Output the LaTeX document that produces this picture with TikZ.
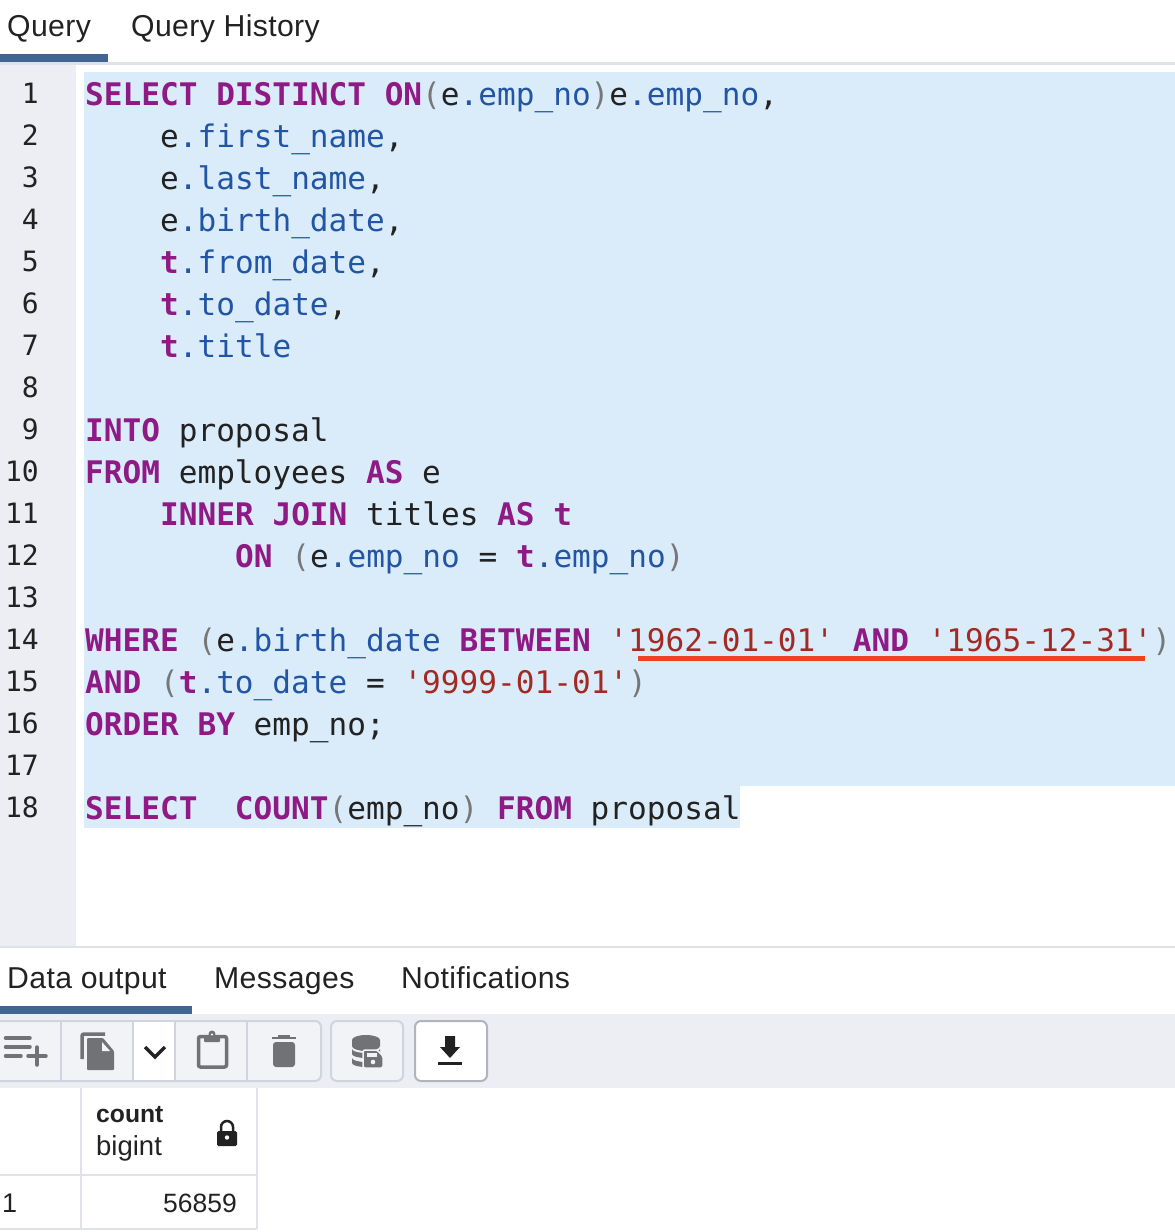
\documentclass[tikz,border=0pt]{standalone}
\usepackage{fontspec}
\setmainfont{Liberation Sans}
\newfontfamily\codefont{DejaVu Sans Mono}
\newfontfamily\tabfont[LetterSpace=1.2]{Liberation Sans}
\usetikzlibrary{positioning}
\definecolor{tabbar}{HTML}{3F6591}
\definecolor{rulegray}{HTML}{DFE2E8}
\definecolor{guttergray}{HTML}{ECEEF3}
\definecolor{selblue}{HTML}{DAECFA}
\definecolor{kwpurple}{HTML}{8F1A85}
\definecolor{fldblue}{HTML}{2255A4}
\definecolor{strred}{HTML}{A32A22}
\definecolor{parengray}{HTML}{777777}
\definecolor{inkdark}{HTML}{222222}
\definecolor{icongray}{HTML}{707276}
\definecolor{btnfill}{HTML}{F1F3F6}
\definecolor{btnline}{HTML}{CFD4DF}
\newcommand{\sqlkw}[1]{\textcolor{kwpurple}{\bfseries #1}}
\newcommand{\sqlfld}[1]{\textcolor{fldblue}{#1}}
\newcommand{\sqlstr}[1]{\textcolor{strred}{#1}}
\newcommand{\sqlpar}[1]{\textcolor{parengray}{#1}}

\begin{document}
\begin{tikzpicture}[x=1pt,y=-1pt,
    code/.style={anchor=base west,inner sep=0pt,text=inkdark,font=\codefont\fontsize{31.1}{31}\selectfont},
    lineno/.style={anchor=base east,inner sep=0pt,text=inkdark,font=\codefont\fontsize{28}{28}\selectfont},
    tab/.style={anchor=base west,inner sep=0pt,text=inkdark,font=\tabfont\fontsize{30.2}{30}\selectfont},
    cell/.style={anchor=base west,inner sep=0pt,text=inkdark,font=\fontsize{27}{27}\selectfont},
    btn/.style={draw=btnline,line width=2pt,fill=btnfill,rounded corners=6pt},
    icon/.style={icongray,line width=3.5pt},
    rulel/.style={rulegray,line width=2.5pt}]
    \useasboundingbox (0,0) rectangle (1175,1232);

    % Top tabs
    \node[tab] (query) at (7,36) {Query};
    \node[tab] (history) at (131,36) {Query History};
    \fill[tabbar] (0,54) rectangle (108,62);
    \draw[rulel] (0,63.5) -- (1175,63.5);

    % Gutter and selection
    \fill[guttergray] (0,65) rectangle (76,946);
    \fill[selblue] (84,72) rectangle (1175,786);
    \fill[selblue] (84,786) rectangle (740,828);
    \foreach \n in {1,...,18}
        \node[lineno] (ln\n) at (39,{61+42*\n}) {\n};

    % SQL text
    \node[code] (l1) at (85,105) {\sqlkw{SELECT DISTINCT ON}\sqlpar{(}e\sqlfld{.emp\_no}\sqlpar{)}e\sqlfld{.emp\_no},};
    \node[code] (l2) at (160,147) {e\sqlfld{.first\_name},};
    \node[code] (l3) at (160,189) {e\sqlfld{.last\_name},};
    \node[code] (l4) at (160,231) {e\sqlfld{.birth\_date},};
    \node[code] (l5) at (160,273) {\sqlkw{t}\sqlfld{.from\_date},};
    \node[code] (l6) at (160,315) {\sqlkw{t}\sqlfld{.to\_date},};
    \node[code] (l7) at (160,357) {\sqlkw{t}\sqlfld{.title}};
    \node[code] (l9) at (85,441) {\sqlkw{INTO} proposal};
    \node[code] (l10) at (85,483) {\sqlkw{FROM} employees \sqlkw{AS} e};
    \node[code] (l11) at (160,525) {\sqlkw{INNER JOIN} titles \sqlkw{AS t}};
    \node[code] (l12) at (235,567) {\sqlkw{ON} \sqlpar{(}e\sqlfld{.emp\_no} = \sqlkw{t}\sqlfld{.emp\_no}\sqlpar{)}};
    \node[code] (l14) at (85,651) {\sqlkw{WHERE} \sqlpar{(}e\sqlfld{.birth\_date} \sqlkw{BETWEEN} \sqlstr{'1962-01-01'} \sqlkw{AND} \sqlstr{'1965-12-31'}\sqlpar{)}};
    \node[code] (l15) at (85,693) {\sqlkw{AND} \sqlpar{(}\sqlkw{t}\sqlfld{.to\_date} = \sqlstr{'9999-01-01'}\sqlpar{)}};
    \node[code] (l16) at (85,735) {\sqlkw{ORDER BY} emp\_no;};
    \node[code] (l18) at (85,819) {\sqlkw{SELECT}\ \ \sqlkw{COUNT}\sqlpar{(}emp\_no\sqlpar{)} \sqlkw{FROM} proposal};

    % Red underline
    \coordinate (ulstart) at (638,658);
    \coordinate (ulend) at (1145,658);
    \draw[color={rgb,255:red,238;green,67;blue,35},line width=5pt] (ulstart) -- (ulend);

    % Bottom tabs
    \draw[rulel] (0,947) -- (1175,947);
    \node[tab] (dataout) at (7,988) {Data output};
    \node[tab] (messages) at (214,988) {Messages};
    \node[tab] (notif) at (401,988) {Notifications};
    \fill[tabbar] (0,1006) rectangle (192,1014);

    % Toolbar
    \fill[guttergray] (0,1014) rectangle (1175,1088);
    \draw[btn] (-8,1021) rectangle (321,1081);
    \fill[white] (133,1022) rectangle (175,1080);
    \foreach \sx in {61,133,175,247}
        \draw[btnline,line width=2pt] (\sx,1021) -- (\sx,1081);
    \draw[btn] (331,1021) rectangle (403,1081);
    \draw[btn,fill=white,draw=btnline!85!black] (415,1021) rectangle (487,1081);

    % Add row icon
    \draw[icon,line cap=round] (5.5,1038) -- (30,1038) (5.5,1047) -- (30,1047) (5.5,1056) -- (21,1056)
        (37,1047) -- (37,1065) (28,1056) -- (46,1056);
    % Copy icon
    \draw[icon,rounded corners=2pt] (105,1034) -- (82,1034) -- (82,1059);
    \fill[icongray,rounded corners=1pt] (87,1038) -- (103,1038) -- (114,1051) -- (114,1070) -- (87,1070) -- cycle;
    \fill[btnfill] (102,1042) -- (110,1051) -- (102,1051) -- cycle;
    % Chevron
    \draw[inkdark,line width=3.5pt] (145,1047) -- (155,1057) -- (165,1047);
    % Clipboard icon
    \draw[icon,rounded corners=2pt] (198.5,1036.5) rectangle (226.5,1067);
    \fill[icongray,rounded corners=1pt] (204,1035) rectangle (220,1042);
    \fill[icongray] (212,1034) circle (3.5);
    \fill[white] (212,1034.5) circle (1.2);
    % Trash icon
    \fill[icongray,rounded corners=3pt] (273,1042) rectangle (295,1067);
    \draw[icongray,line width=2.5pt] (272,1038) -- (296,1038);
    \draw[icongray,line width=2pt] (279,1037) -- (279,1036) -- (289,1036) -- (289,1037);
    % Database icon
    \fill[icongray] (352,1040) arc[start angle=180,end angle=360,x radius=14,y radius=5] -- (380,1046)
        arc[start angle=0,end angle=180,x radius=14,y radius=5] -- cycle;
    \fill[icongray] (352,1049) arc[start angle=180,end angle=0,x radius=14,y radius=4] -- (380,1054)
        arc[start angle=0,end angle=180,x radius=14,y radius=4] -- cycle;
    \fill[icongray] (352,1058) arc[start angle=180,end angle=0,x radius=14,y radius=4] -- (380,1063)
        arc[start angle=0,end angle=180,x radius=14,y radius=4] -- cycle;
    \draw[btnfill,fill=icongray,line width=1.5pt,rounded corners=1.5pt] (363,1050) -- (377,1050) -- (383,1056) -- (383,1068) -- (363,1068) -- cycle;
    \fill[btnfill] (367,1053) rectangle (377,1057);
    \fill[btnfill] (373,1062) circle (2.3);
    % Download icon
    \fill[inkdark] (445,1036) -- (455,1036) -- (455,1047) -- (460,1047) -- (450,1058) -- (440,1047) -- (445,1047) -- cycle;
    \fill[inkdark] (438,1062) rectangle (462,1065);

    % Result table
    \draw[rulel] (81,1088) -- (81,1229);
    \draw[rulel] (257,1088) -- (257,1229);
    \draw[rulel] (0,1175) -- (257,1175);
    \draw[rulel] (0,1229) -- (257,1229);
    \node[cell,font=\bfseries\fontsize{24.7}{25}\selectfont] (count) at (96,1122) {count};
    \node[cell,font=\fontsize{27.5}{27}\selectfont] (bigint) at (96,1155) {bigint};
    \node[cell] (rownum) at (2,1212) {1};
    \node[cell,anchor=base east,font=\fontsize{26.5}{27}\selectfont] (value) at (237,1212) {56859};
    % Lock icon
    \draw[inkdark,line width=2.5pt] (221,1133) -- (221,1127) arc[start angle=180,end angle=360,radius=6] -- (233,1133);
    \fill[inkdark,rounded corners=1.5pt] (217,1131) rectangle (237,1146);
    \fill[white] (227,1137.5) circle (2.2);
\end{tikzpicture}
\end{document}
